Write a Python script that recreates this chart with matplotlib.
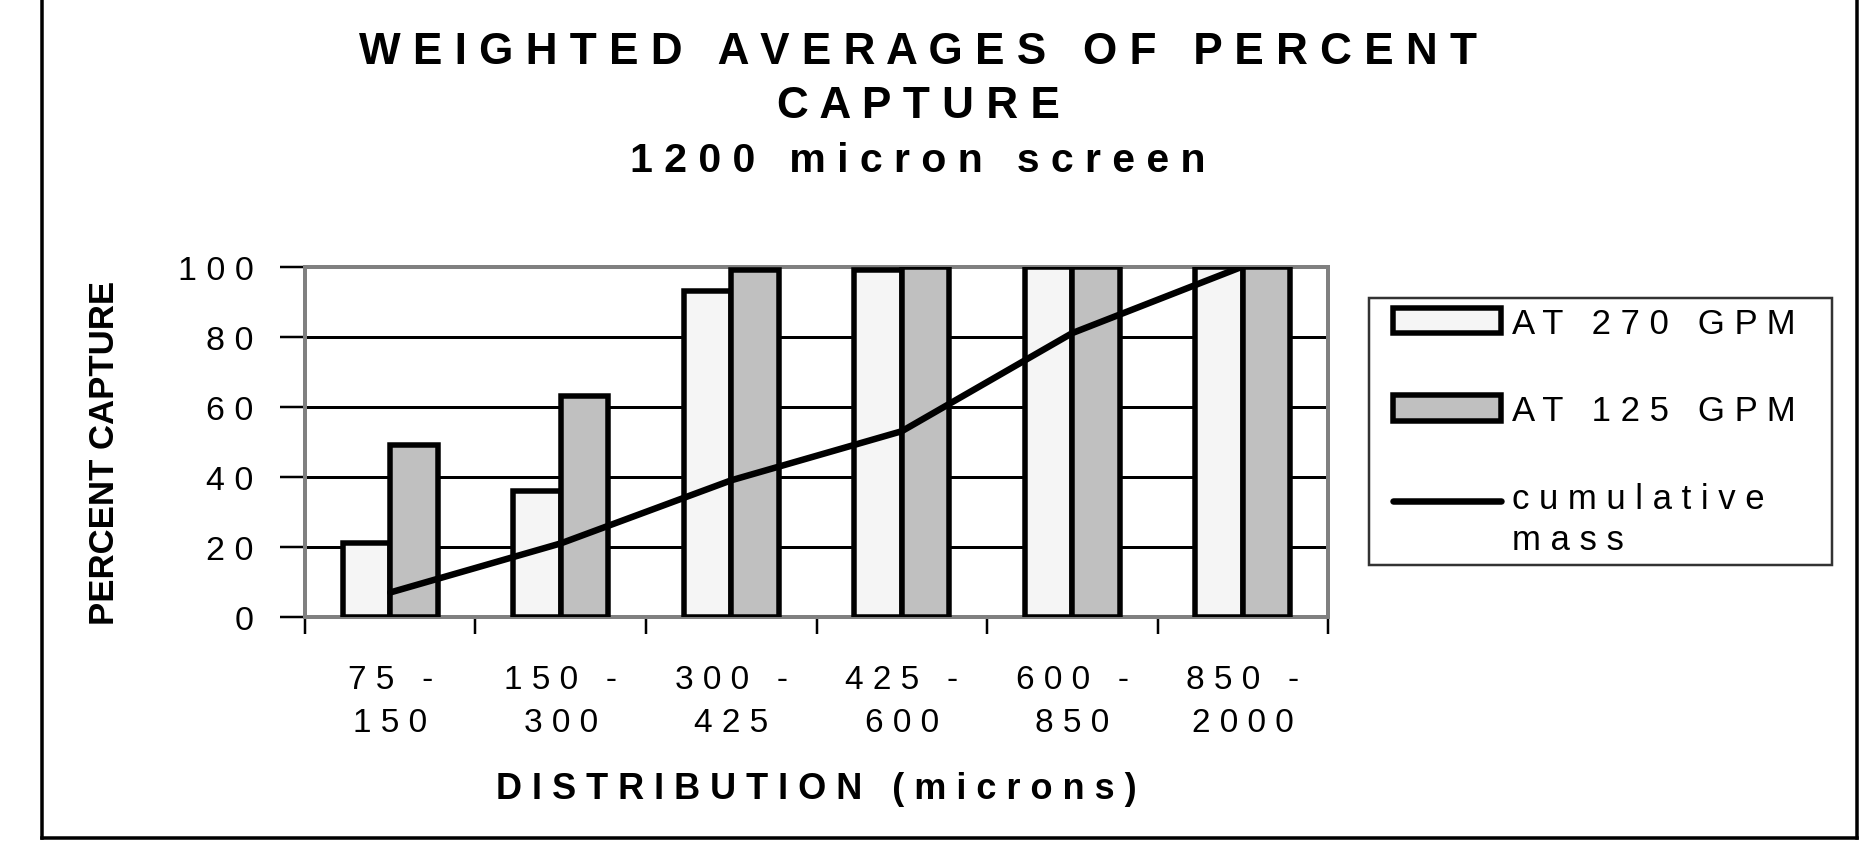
import matplotlib
matplotlib.use("Agg")
import matplotlib.pyplot as plt
from matplotlib.lines import Line2D
from matplotlib.patches import Rectangle
import numpy as np

plt.rcParams['font.family'] = ['Liberation Sans', 'DejaVu Sans']

categories = ["75 -\n150", "150 -\n300", "300 -\n425", "425 -\n600", "600 -\n850", "850 -\n2000"]
at_270 = [21, 36, 93, 99, 100, 100]
at_125 = [49, 63, 99, 100, 100, 100]
cumulative = [7, 21, 39, 53, 81, 100]
y_ticks = [0, 20, 40, 60, 80, 100]
series_labels = ["AT 270 GPM", "AT 125 GPM", "cumulative\nmass"]
title_lines = ["WEIGHTED AVERAGES OF PERCENT", "CAPTURE", "1200 micron screen"]
x_title = "DISTRIBUTION (microns)"
y_title = "PERCENT CAPTURE"


def track(s):
    return "\n".join(" ".join(list(line)) for line in s.split("\n"))


W, H = 1874, 845
fig = plt.figure(figsize=(W / 100, H / 100), dpi=100)
px = 72 / 100  # points per pixel

ax = fig.add_axes([305 / W, 1 - 618 / H, (1328 - 305) / W, (618 - 267.5) / H])

x = np.arange(len(categories))
bw = 0.28
EDGE = 5.5 * px
bars1 = ax.bar(x + 0.5 - bw / 2, at_270, width=bw, color="#f5f5f5", edgecolor="black",
               linewidth=EDGE, zorder=3)
bars2 = ax.bar(x + 0.5 + bw / 2, at_125, width=bw, color="#c0c0c0", edgecolor="black",
               linewidth=EDGE, zorder=3)
line, = ax.plot(x + 0.5, cumulative, color="black", linewidth=6.5 * px, zorder=4,
                solid_capstyle="round", solid_joinstyle="round")

ax.set_xlim(0, len(categories))
ax.set_ylim(0, 100)
ax.set_yticks(y_ticks)
ax.set_yticklabels([track(str(v)) for v in y_ticks], fontsize=24.5)
ax.set_xticks(np.arange(len(categories) + 1))
ax.set_xticklabels([])
ax.set_xticks(x + 0.5, minor=True)
ax.set_xticklabels([track(c) for c in categories], minor=True, fontsize=24,
                   linespacing=1.5)
ax.tick_params(axis="x", which="minor", length=0, pad=34)
ax.tick_params(axis="x", which="major", length=12, width=2.5 * px, color="black", direction="out")
ax.tick_params(axis="y", length=18, width=2.5 * px, color="black", direction="out", pad=19)

for v in y_ticks[1:-1]:
    ax.axhline(v, color="black", linewidth=3 * px, zorder=1)
for s in ax.spines.values():
    s.set_color("#808080")
    s.set_linewidth(4 * px)

ax.set_xlabel(track(x_title), fontsize=26, fontweight="bold", labelpad=23.5)
fig.text(105 / W, 1 - 453 / H, y_title, rotation=90, fontsize=25, fontweight="bold",
         ha="center", va="center")

title_y = [52, 106, 161]
title_fs = [31.8, 31.8, 29.5]
for t, yy, fs in zip(title_lines, title_y, title_fs):
    fig.text(918 / W, 1 - yy / H, track(t), fontsize=fs, fontweight="bold",
             ha="center", va="center")

# legend with custom handlers
LFS = 25
OFF = 11  # points of left inset for handles


class BoxHandler:
    def legend_artist(self, legend, orig_handle, fontsize, handlebox):
        x0, y0 = handlebox.xdescent, handlebox.ydescent
        w, h = handlebox.width, handlebox.height
        r = Rectangle((OFF - x0, -y0), w - OFF, h,
                      facecolor=orig_handle.patches[0].get_facecolor(),
                      edgecolor="black", linewidth=EDGE, transform=handlebox.get_transform())
        handlebox.add_artist(r)
        return r


class LineHandler:
    def __init__(self, shift):
        self.shift = shift

    def legend_artist(self, legend, orig_handle, fontsize, handlebox):
        x0, y0 = handlebox.xdescent, handlebox.ydescent
        w, h = handlebox.width, handlebox.height
        yy = h / 2 - y0 + self.shift
        ln = Line2D([OFF - x0, w - x0], [yy, yy], color=orig_handle.get_color(),
                    linewidth=orig_handle.get_linewidth(), solid_capstyle="round",
                    transform=handlebox.get_transform())
        handlebox.add_artist(ln)
        return ln


leg = fig.legend([bars1, bars2, line], [track(s) for s in series_labels],
                 handler_map={bars1: BoxHandler(), bars2: BoxHandler(), line: LineHandler(13.5)},
                 loc="upper left",
                 bbox_to_anchor=(1369 / W, 1 - 565 / H, (1832 - 1369) / W, (565 - 299) / H),
                 bbox_transform=fig.transFigure, borderaxespad=0, mode="expand",
                 fontsize=LFS, handlelength=(OFF + 78) / LFS, handleheight=0.75,
                 handletextpad=0.3, labelspacing=1.57, borderpad=0.25,
                 frameon=True, fancybox=False)
leg.get_frame().set_edgecolor("black")
leg.get_frame().set_linewidth(2.5 * px)
leg.get_texts()[2].set_linespacing(1.33)
leg.set_zorder(5)

# outer frame (left, bottom, right)
for xs, ys in [([42, 42], [0, 839]), ([42, 1857], [839, 839]), ([1857, 1857], [839, 0])]:
    fig.add_artist(Line2D([v / W for v in xs], [1 - v / H for v in ys], color="black",
                          linewidth=3.5 * px, transform=fig.transFigure))

fig.savefig("out.png", dpi=100, facecolor="white")
